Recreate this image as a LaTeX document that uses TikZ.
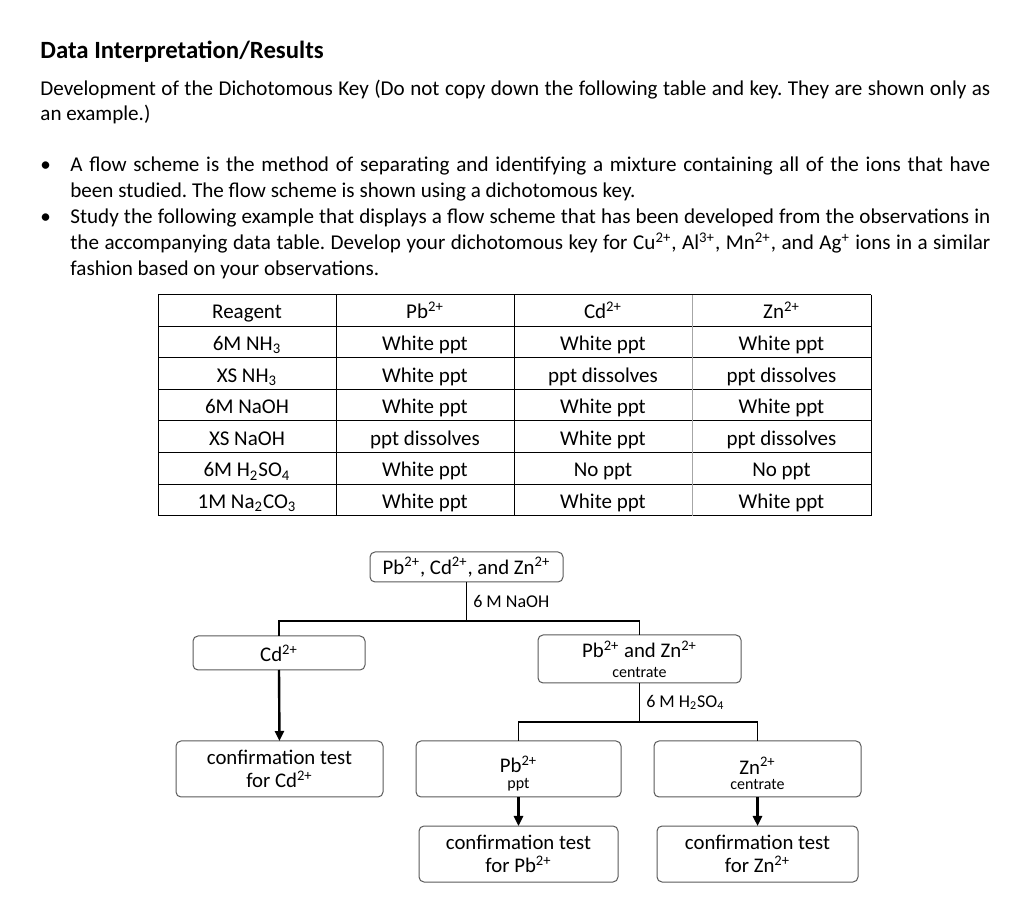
\documentclass[tikz,border=0pt]{standalone}
\usepackage{fontspec}
\setmainfont{Carlito}
\usetikzlibrary{arrows.meta}

\newcommand{\ion}[2]{#1\textsuperscript{#2}}
\frenchspacing

\begin{document}
\begin{tikzpicture}[x=0.5pt,y=-0.5pt,
	txt/.style={anchor=base west,inner sep=0pt,font=\fontsize{10.55}{13}\selectfont},
	head/.style={anchor=base west,inner sep=0pt,font=\fontsize{12.4}{14}\selectfont\bfseries},
	cell/.style={anchor=base,inner sep=0pt,font=\fontsize{10.5}{13}\selectfont},
	rule/.style={line width=0.5pt,black},
	inrule/.style={line width=0.5pt,black!35},
	ionbox/.style={draw=black!65,line width=0.5pt,rounded corners=2.5pt,inner sep=0pt,outer sep=0pt,align=center,font=\fontsize{10.4}{11.8}\selectfont},
	link/.style={line width=0.75pt,black},
	arrow/.style={line width=1.2pt,black,-{Triangle[length=5pt,width=4.5pt]}},
	lbl/.style={right,inner sep=3pt,font=\fontsize{9}{11}\selectfont}]
	\useasboundingbox (0,0) rectangle (1024,903);

	\node[head] (title) at (40,59) {Data Interpretation/Results};
	\node[txt] (intro1) at (40,96) {\makebox[475pt][s]{Development of the Dichotomous Key (Do not copy down the following table and key. They are shown only as}};
	\node[txt] (intro2) at (40,121) {an example.)};

	\node[txt] (dot1) at (40,172) {\textbullet};
	\node[txt] (dot2) at (40,224) {\textbullet};
	\node[txt] (b1l1) at (70,172) {\makebox[460pt][s]{A flow scheme is the method of separating and identifying a mixture containing all of the ions that have}};
	\node[txt] (b1l2) at (70,198) {been studied. The flow scheme is shown using a dichotomous key.};
	\node[txt] (b2l1) at (70,224) {\makebox[460pt][s]{Study the following example that displays a flow scheme that has been developed from the observations in}};
	\node[txt] (b2l2) at (70,250) {\makebox[460pt][s]{the accompanying data table. Develop your dichotomous key for \ion{Cu}{2+}, \ion{Al}{3+}, \ion{Mn}{2+}, and \ion{Ag}{+} ions in a similar}};
	\node[txt] (b2l3) at (70,276) {fashion based on your observations.};

	\foreach \y in {295,327,358,390,421,453,485,516}
		\draw[rule] (158,\y) -- (871,\y);
	\foreach \x in {158,336,514,871}
		\draw[rule] (\x,295) -- (\x,516);
	\draw[inrule] (692,295) -- (692,516);

	\foreach \r/\a/\b/\c/\d in {
		0/Reagent/\ion{Pb}{2+}/\ion{Cd}{2+}/\ion{Zn}{2+},
		1/6M NH\textsubscript{3}/White ppt/White ppt/White ppt,
		2/XS NH\textsubscript{3}/White ppt/ppt dissolves/ppt dissolves,
		3/6M NaOH/White ppt/White ppt/White ppt,
		4/XS NaOH/ppt dissolves/White ppt/ppt dissolves,
		5/6M H\textsubscript{2}SO\textsubscript{4}/White ppt/No ppt/No ppt,
		6/1M Na\textsubscript{2}CO\textsubscript{3}/White ppt/White ppt/White ppt}
	{
		\node[cell] (c\r a) at (247,{319+31.6*\r}) {\a};
		\node[cell] (c\r b) at (425,{319+31.6*\r}) {\b};
		\node[cell] (c\r c) at (603,{319+31.6*\r}) {\c};
		\node[cell] (c\r d) at (781.5,{319+31.6*\r}) {\d};
	}

	\node[ionbox,minimum width=96.5pt,minimum height=15pt] (mix) at (466.5,567) {\ion{Pb}{2+}, \ion{Cd}{2+}, and \ion{Zn}{2+}};
	\node[ionbox,minimum width=86pt,minimum height=17pt] (cd) at (279,653) {\ion{Cd}{2+}};
	\node[ionbox,minimum width=101.5pt,minimum height=24pt] (pbzn) at (639.5,659) {\ion{Pb}{2+} and \ion{Zn}{2+}\\[-2pt]{\fontsize{8}{9}\selectfont centrate}};
	\node[ionbox,minimum width=103.5pt,minimum height=28pt] (cdtest) at (279.5,769) {confirmation test\\for \ion{Cd}{2+}};
	\node[ionbox,minimum width=102.5pt,minimum height=28pt] (pb) at (518.5,769) {\rule{0pt}{13pt}\ion{Pb}{2+}\\[-4pt]{\fontsize{8}{9}\selectfont ppt}};
	\node[ionbox,minimum width=103.5pt,minimum height=28pt] (zn) at (757.5,769) {\rule{0pt}{13pt}\ion{Zn}{2+}\\[-4pt]{\fontsize{8}{9}\selectfont centrate}};
	\node[ionbox,minimum width=99.5pt,minimum height=28pt] (pbtest) at (518.5,854) {confirmation test\\for \ion{Pb}{2+}};
	\node[ionbox,minimum width=100.5pt,minimum height=28pt] (zntest) at (757.5,854) {confirmation test\\for \ion{Zn}{2+}};

	\coordinate (split1) at (466.5,621);
	\coordinate (split2) at (639.5,722);

	\draw[link] (mix.south) -- node[lbl]{6 M NaOH} (split1);
	\draw[link] (cd.north) |- (split1) -| (pbzn.north);
	\draw[link] (pbzn.south) -- node[lbl]{6 M H\textsubscript{2}SO\textsubscript{4}} (split2);
	\draw[link] (pb.north) |- (split2) -| (zn.north);

	\draw[arrow] (cd.south) -- (cdtest.north);
	\draw[arrow] (pb.south) -- (pbtest.north);
	\draw[arrow] (zn.south) -- (zntest.north);
\end{tikzpicture}
\end{document}
